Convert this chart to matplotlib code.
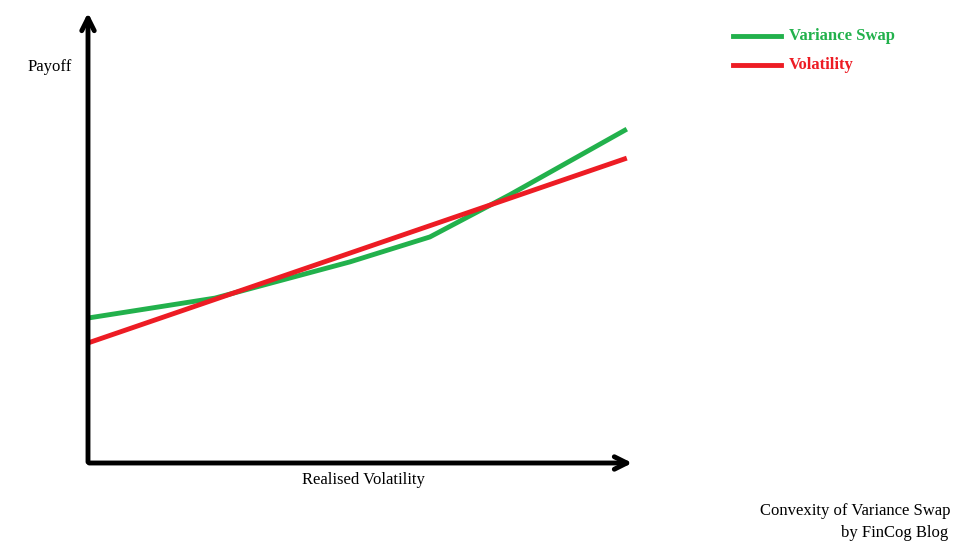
import matplotlib
matplotlib.use("Agg")
import matplotlib.pyplot as plt

# realised volatility (x) and payoff (y), arbitrary units
vs_x = [0, 23.2, 47.9, 62.5, 77.1, 98.5]
vs_y = [32.0, 36.4, 44.4, 49.9, 59.2, 73.7]
vol_x = [0, 98.5]
vol_y = [26.5, 67.3]

GREEN = "#22b14c"
RED = "#ed1c24"
W, H = 964, 551

fig = plt.figure(figsize=(9.64, 5.51), dpi=100)
fig.patch.set_facecolor("white")

# axes placed over the hand-drawn axis area (origin at 88,463 px)
ax = fig.add_axes([88 / W, 1 - 463 / H, (635 - 88) / W, (463 - 10) / H])
ax.set_xlim(0, 100)
ax.set_ylim(0, 100)
ax.axis("off")

ax.plot(vs_x, vs_y, color=GREEN, lw=3.5, solid_capstyle="butt")
ax.plot(vol_x, vol_y, color=RED, lw=3.5, solid_capstyle="butt")

# axis arrows
arrow = dict(arrowstyle="->,head_length=0.9,head_width=0.45", lw=3.5, color="black")
ax.annotate("", xy=(100, 0), xytext=(-0.3, 0), xycoords="data", arrowprops=arrow, annotation_clip=False)
ax.annotate("", xy=(0, 100), xytext=(0, -0.4), xycoords="data", arrowprops=arrow, annotation_clip=False)

font = "Liberation Serif"
fig.text(28 / W, 1 - 67 / H, "Payoff", fontsize=12, family=font, va="center")
fig.text(363 / W, 1 - 480 / H, "Realised Volatility", fontsize=12, family=font, ha="center", va="center")

# legend
for i, (lab, col) in enumerate([("Variance Swap", GREEN), ("Volatility", RED)]):
    yy = 1 - (36 + 29 * i) / H
    fig.add_artist(plt.Line2D([733 / W, 781 / W], [yy, yy], color=col, lw=3.5))
    fig.text(789 / W, yy, lab, color=col, fontsize=12, family=font, weight="bold", va="center")

fig.text(950 / W, 1 - 511 / H, "Convexity of Variance Swap", fontsize=12, family=font, ha="right", va="center")
fig.text(948 / W, 1 - 533 / H, "by FinCog Blog", fontsize=12, family=font, ha="right", va="center")

fig.savefig("out.png", dpi=100)
